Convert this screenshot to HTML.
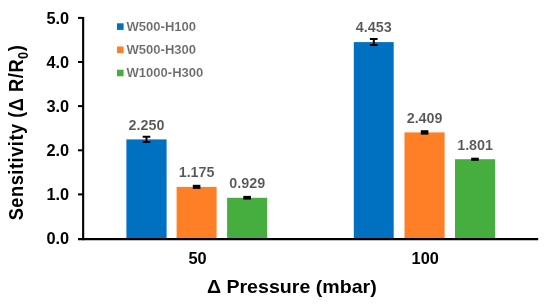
<!DOCTYPE html>
<html>
<head>
<meta charset="utf-8">
<title>Sensitivity chart</title>
<style>
html,body{margin:0;padding:0;background:#fff;}
body{width:550px;height:306px;overflow:hidden;}
svg{display:block;}
text{font-family:"Liberation Sans",Arial,sans-serif;font-weight:bold;}
.tick{font-size:15.8px;fill:#000;}
.val{font-size:14px;fill:#555555;stroke:#ffffff;stroke-width:0.1px;}
.leg{font-size:13px;fill:#6a6a6a;stroke:#ffffff;stroke-width:0.12px;}
.ttl{font-size:18.5px;fill:#000;}
</style>
</head>
<body>
<svg xmlns="http://www.w3.org/2000/svg" width="550" height="306" viewBox="0 0 550 306">
<rect x="0" y="0" width="550" height="306" fill="#ffffff"/>
<g>
<rect x="126.4" y="139.4" width="40.2" height="99.6" fill="#0070C0"/>
<rect x="176.6" y="186.9" width="40.0" height="52.1" fill="#FF7F27"/>
<rect x="227.1" y="197.8" width="40.1" height="41.2" fill="#46AE3F"/>
<rect x="353.8" y="42.1" width="39.9" height="196.9" fill="#0070C0"/>
<rect x="404.5" y="132.4" width="40.1" height="106.6" fill="#FF7F27"/>
<rect x="455.0" y="159.2" width="40.1" height="79.8" fill="#46AE3F"/>
</g>
<g fill="#000">
<rect x="82.1" y="17" width="2.1" height="223.2"/>
<rect x="78" y="238" width="460.2" height="2.25"/>
<rect x="78" y="193.4" width="5" height="2.0"/>
<rect x="78" y="149.3" width="5" height="2.0"/>
<rect x="78" y="105.1" width="5" height="2.0"/>
<rect x="78" y="61.0" width="5" height="2.0"/>
<rect x="78" y="16.9" width="5" height="2.0"/>
</g>
<g stroke="#000" stroke-width="2" fill="none">
<path d="M142.7 136.7H150.3M142.7 142.1H150.3M146.5 136.7V142.1"/>
<rect x="192.8" y="184.8" width="7.6" height="4.1" fill="#000" stroke="none"/>
<rect x="243.3" y="195.9" width="7.6" height="3.7" fill="#000" stroke="none"/>
<path d="M369.9 39.1H377.6M369.9 45.1H377.6M373.8 39.1V45.1"/>
<rect x="420.8" y="130.2" width="7.6" height="4.4" fill="#000" stroke="none"/>
<rect x="471.2" y="157.7" width="7.6" height="3.1" fill="#000" stroke="none"/>
</g>
<g>
<text class="val" text-anchor="middle" transform="translate(146.5 129.7) scale(1.025 1)">2.250</text>
<text class="val" text-anchor="middle" transform="translate(196.6 177.2) scale(1.025 1)">1.175</text>
<text class="val" text-anchor="middle" transform="translate(247.2 188.1) scale(1.025 1)">0.929</text>
<text class="val" text-anchor="middle" transform="translate(373.8 32.4) scale(1.025 1)">4.453</text>
<text class="val" text-anchor="middle" transform="translate(424.6 122.7) scale(1.025 1)">2.409</text>
<text class="val" text-anchor="middle" transform="translate(475.1 149.5) scale(1.025 1)">1.801</text>
</g>
<g>
<text class="tick" text-anchor="end" transform="translate(69.2 244.1) scale(1.035 1)">0.0</text>
<text class="tick" text-anchor="end" transform="translate(69.2 200.0) scale(1.035 1)">1.0</text>
<text class="tick" text-anchor="end" transform="translate(69.2 155.9) scale(1.035 1)">2.0</text>
<text class="tick" text-anchor="end" transform="translate(69.2 111.7) scale(1.035 1)">3.0</text>
<text class="tick" text-anchor="end" transform="translate(69.2 67.6) scale(1.035 1)">4.0</text>
<text class="tick" text-anchor="end" transform="translate(69.2 23.5) scale(1.035 1)">5.0</text>
<text class="tick" text-anchor="middle" transform="translate(197.5 263.5) scale(1.035 1)">50</text>
<text class="tick" text-anchor="middle" transform="translate(425.2 263.5) scale(1.035 1)">100</text>
</g>
<g>
<rect x="117" y="23.3" width="6.6" height="6.6" fill="#0070C0"/>
<text class="leg" text-anchor="start" transform="translate(126.5 30.7) scale(1.005 1)">W500-H100</text>
<rect x="117" y="46.5" width="6.6" height="6.6" fill="#FF7F27"/>
<text class="leg" text-anchor="start" transform="translate(126.5 53.9) scale(1.005 1)">W500-H300</text>
<rect x="117" y="69.7" width="6.6" height="6.6" fill="#46AE3F"/>
<text class="leg" text-anchor="start" transform="translate(126.5 77.1) scale(1.005 1)">W1000-H300</text>
</g>
<text class="ttl" text-anchor="middle" transform="translate(291.8 293.1) scale(1.06 1)">Δ Pressure (mbar)</text>
<text class="ttl" text-anchor="middle" transform="translate(22.6 132.5) rotate(-90) scale(0.985 1.06)" letter-spacing="0.55">Sensitivity (Δ R/R<tspan font-size="13px" dy="5.2">0</tspan><tspan dy="-5.2">)</tspan></text>
</svg>
</body>
</html>
